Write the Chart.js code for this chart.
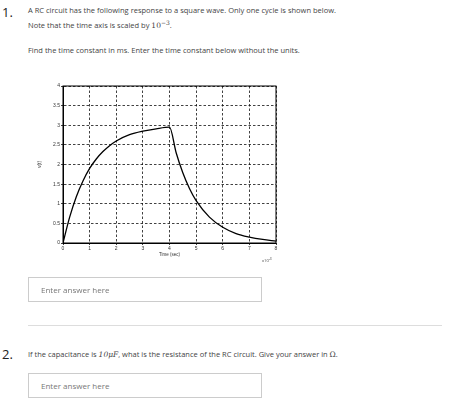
<!DOCTYPE html><html><head><meta charset="utf-8">
<script src="https://cdn.jsdelivr.net/npm/chart.js@4/dist/chart.umd.min.js"></script>
<style>
body{margin:0;width:453px;height:412px;position:relative;font-family:"Open Sans",sans-serif;color:#444;background:#fff}
.a{position:absolute}
.num{font-size:13px;color:#222}
.t{font-size:7.5px;line-height:12px}
.inp{position:absolute;border:1px solid #ccc;font-size:8px;color:#777;padding-left:12px;box-sizing:border-box;line-height:23px}
</style></head><body>
<div class="a num" style="left:2px;top:3px">1.</div>
<div class="a t" style="left:28px;top:4px">A RC circuit has the following response to a square wave. Only one cycle is shown below.<br>Note that the time axis is scaled by <span style="font-family:'DejaVu Serif';">10<sup style="font-size:6px">−3</sup></span>.</div>
<div class="a t" style="left:28px;top:44px">Find the time constant in ms. Enter the time constant below without the units.</div>
<div class="a" style="left:35px;top:80px;width:255px;height:177px"><canvas id="c" width="255" height="177"></canvas></div>
<div class="a" style="left:262px;top:256px;font-size:4px;color:#444">x10<sup>-3</sup></div>
<div class="inp" style="left:28px;top:277px;width:234px;height:25px">Enter answer here</div>
<div class="a" style="left:28px;top:325px;width:414px;border-top:1px solid #ddd"></div>
<div class="a num" style="left:2px;top:345px">2.</div>
<div class="a t" style="left:28px;top:348px">If the capacitance is <span style="font-family:'DejaVu Serif';font-style:italic">10μF</span>, what is the resistance of the RC circuit. Give your answer in <span style="font-family:'DejaVu Serif'">Ω</span>.</div>
<div class="inp" style="left:28px;top:373px;width:234px;height:25px">Enter answer here</div>
<script>
const times=[0,0.25,0.5,0.75,1,1.25,1.5,1.75,2,2.5,3,3.5,4,4.25,4.5,4.75,5,5.5,6,6.5,7,7.5,8];
const volts=[0,0.66,1.18,1.58,1.9,2.14,2.33,2.48,2.6,2.76,2.85,2.91,2.95,2.3,1.79,1.39,1.08,0.66,0.4,0.24,0.15,0.09,0.05];
const xTicks=[0,1,2,3,4,5,6,7,8];
const yTicks=[0,0.5,1,1.5,2,2.5,3,3.5,4];
const tf={size:5,family:'Arial'};
new Chart(document.getElementById('c'),{type:'line',
data:{datasets:[{data:times.map((t,i)=>({x:t,y:volts[i]})),borderColor:'#000',borderWidth:1.3,pointRadius:0,cubicInterpolationMode:'monotone'}]},
options:{animation:false,responsive:false,layout:{padding:{top:6,right:14,left:0,bottom:0}},
plugins:{legend:{display:false},tooltip:{enabled:false}},
scales:{
x:{type:'linear',min:0,max:8,afterBuildTicks:s=>{s.ticks=xTicks.map(v=>({value:v}))},
 grid:{color:'#111',lineWidth:0.8,tickLength:2},border:{color:'#000',dash:[2.5,2]},
 ticks:{font:tf,color:'#333',padding:1,callback:v=>String(v)},title:{display:true,text:'Time (sec)',font:{size:4.5,family:'Arial'},color:'#333',padding:0},
 afterFit:s=>{s.height=14}},
y:{min:0,max:4,afterBuildTicks:s=>{s.ticks=yTicks.map(v=>({value:v}))},
 grid:{color:'#111',lineWidth:0.8,tickLength:2},border:{color:'#000',dash:[2.5,2]},
 ticks:{font:tf,color:'#333',padding:1,callback:v=>String(v)},title:{display:true,text:'v(t)',font:{size:5,family:'Arial'},color:'#333',padding:2},
 afterFit:s=>{s.width=28}}
}},
plugins:[{id:'box',afterDraw(c){const g=c.ctx,a=c.chartArea;g.save();g.strokeStyle='#000';g.lineWidth=1;g.setLineDash([]);g.strokeRect(a.left,a.top,a.right-a.left,a.bottom-a.top);g.restore();}}]
});
</script>
</body></html>
